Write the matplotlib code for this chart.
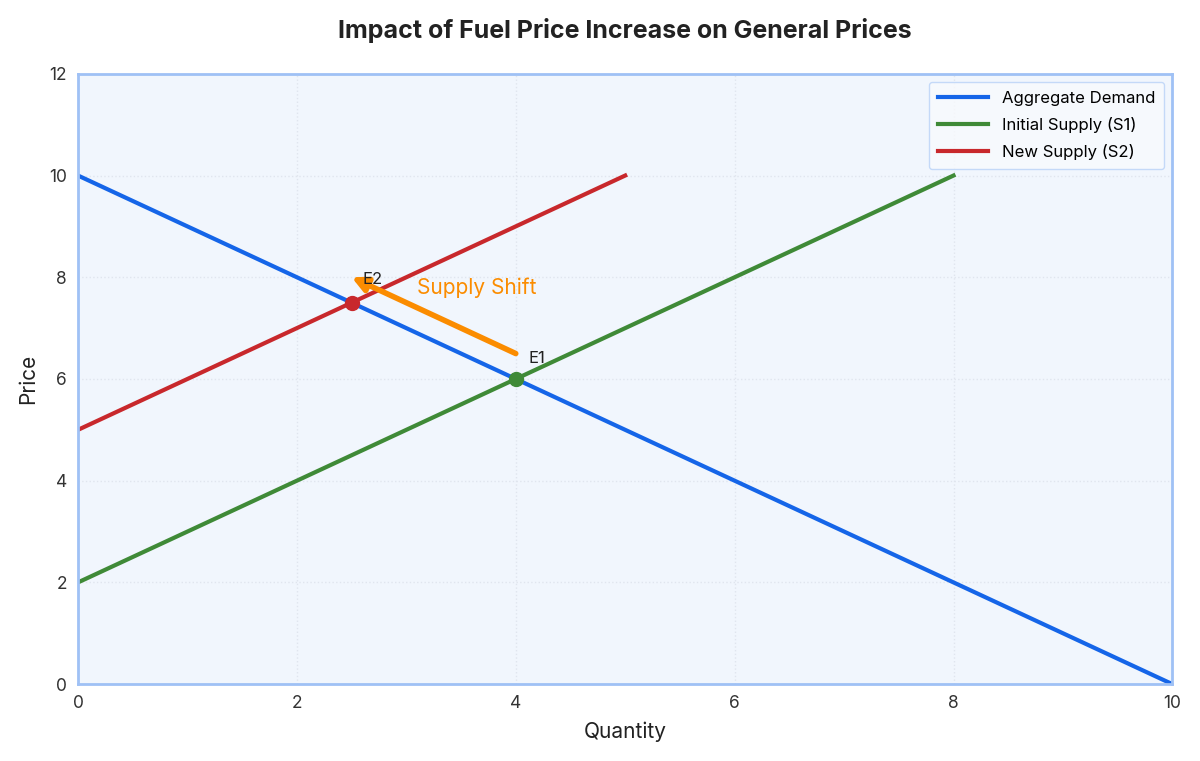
import matplotlib
matplotlib.use('Agg')
import matplotlib.pyplot as plt
import numpy as np

plt.rcParams['font.family'] = ['Inter', 'DejaVu Sans']

# data
demand_x = [0, 10]
demand_y = [10, 0]
s1_x = [0, 8]
s1_y = [2, 10]
s2_x = [0, 5]
s2_y = [5, 10]
e1 = (4, 6)
e2 = (2.5, 7.5)
arrow_start = (4, 6.5)
arrow_end = (2.5, 8)

fig, ax = plt.subplots(figsize=(12, 7.61), dpi=100)
fig.subplots_adjust(left=0.065, right=0.977, top=0.903, bottom=0.101)
ax.set_facecolor('#f1f6fd')

ax.plot(demand_x, demand_y, color='#1565e8', lw=3, label='Aggregate Demand')
ax.plot(s1_x, s1_y, color='#3f8a37', lw=3, label='Initial Supply (S1)')
ax.plot(s2_x, s2_y, color='#c8282c', lw=3, label='New Supply (S2)')

ax.plot(*e1, 'o', color='#3f8a37', ms=10, zorder=5)
ax.plot(*e2, 'o', color='#c8282c', ms=10, zorder=5)

ax.annotate('', xy=arrow_end, xytext=arrow_start,
            arrowprops=dict(arrowstyle='-|>', color='#fb8c00', lw=4,
                            mutation_scale=22, shrinkA=0, shrinkB=0))
ax.text(3.1, 7.8, 'Supply Shift', color='#fb8c00', fontsize=15, va='center')
ax.text(e1[0] + 0.12, e1[1] + 0.4, 'E1', fontsize=12, color='#222222', va='center')
ax.text(e2[0] + 0.1, e2[1] + 0.45, 'E2', fontsize=12, color='#222222', va='center')

ax.set_xlim(0, 10)
ax.set_ylim(0, 12)
ax.set_xticks(np.arange(0, 11, 2))
ax.set_yticks(np.arange(0, 13, 2))
ax.tick_params(length=0, labelsize=12.5, colors='#333333', pad=8)
ax.grid(True, linestyle=':', color='#e0e5ee', lw=1)
for s in ax.spines.values():
    s.set_color('#9fc1f5')
    s.set_linewidth(2)

ax.set_xlabel('Quantity', fontsize=15, color='#222222', labelpad=7)
ax.set_ylabel('Price', fontsize=15, color='#222222', labelpad=8)
ax.set_title('Impact of Fuel Price Increase on General Prices', fontsize=18,
             fontweight='bold', color='#222222', pad=26)

leg = ax.legend(loc='upper right', fontsize=12, frameon=True, handlelength=3,
                labelspacing=0.65, borderpad=0.55)
leg.get_frame().set_edgecolor('#b9d2f7')
leg.get_frame().set_facecolor('#f8fafd')

fig.savefig('out.png', dpi=100)
